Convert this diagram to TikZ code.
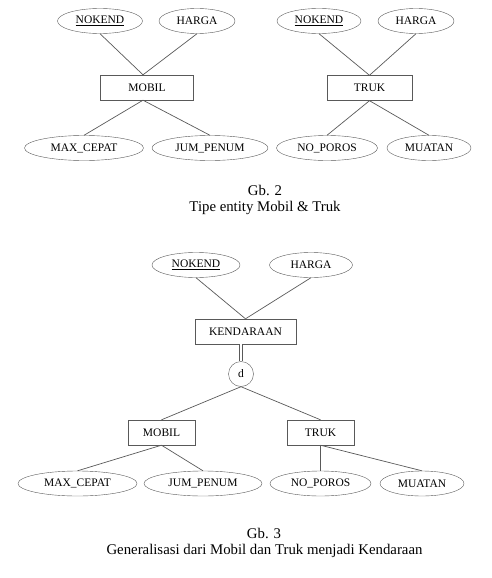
\documentclass[tikz,border=0pt]{standalone}
\usepackage{fontspec}
\setmainfont{Liberation Serif}
\usetikzlibrary{shapes.geometric}
\begin{document}
\begin{tikzpicture}[x=1pt,y=-1pt,
  attr/.style={draw=black!65, ellipse, inner sep=0pt, minimum height=25pt, font=\fontsize{11.5}{13}\selectfont},
  ent/.style={draw=black!65, rectangle, inner sep=0pt, minimum height=25pt, font=\fontsize{11.5}{13}\selectfont},
  lnk/.style={draw=black!65, line width=0.7pt},
  captxt/.style={font=\fontsize{14.8}{17}\selectfont, inner sep=0pt}]
\useasboundingbox (0,0) rectangle (492,578);
% ---- Gb. 2 : Mobil
\node[attr, minimum width=85pt] (nk1) at (100,21) {\underline{NOKEND}};
\node[attr, minimum width=76pt] (hg1) at (197,21) {HARGA};
\node[ent, minimum width=93pt] (mob1) at (147,87.5) {MOBIL};
\node[attr, minimum width=119pt] (mc1) at (84,148) {MAX\_CEPAT};
\node[attr, minimum width=116pt] (jp1) at (210,148) {JUM\_PENUM};
\draw[lnk] (nk1.south) -- ([xshift=-4pt]mob1.north);
\draw[lnk] (hg1.south) -- ([xshift=-4pt]mob1.north);
\draw[lnk] ([xshift=-4pt]mob1.south) -- (mc1.north);
\draw[lnk] ([xshift=-4pt]mob1.south) -- (jp1.north);
% ---- Gb. 2 : Truk
\node[attr, minimum width=84pt] (nk2) at (319,21) {\underline{NOKEND}};
\node[attr, minimum width=76pt] (hg2) at (416,21) {HARGA};
\node[ent, minimum width=85pt] (tr1) at (369.5,88) {TRUK};
\node[attr, minimum width=101pt] (np1) at (327,148) {NO\_POROS};
\node[attr, minimum width=84pt] (mu1) at (429,148) {MUATAN};
\draw[lnk] (nk2.south) -- (tr1.north);
\draw[lnk] (hg2.south) -- (tr1.north);
\draw[lnk] (tr1.south) -- (np1.north);
\draw[lnk] (tr1.south) -- (mu1.north);
% caption
\node[captxt] (c2a) at (265,190) {Gb. 2};
\node[captxt] (c2b) at (265,208) {Tipe entity Mobil \& Truk};
% ---- Gb. 3
\node[attr, minimum width=88pt] (nk3) at (196,265) {\underline{NOKEND}};
\node[attr, minimum width=83pt] (hg3) at (311,265) {HARGA};
\node[ent, minimum width=101pt] (ken) at (245.5,331.5) {KENDARAAN};
\node[draw=black!65, circle, minimum size=25pt, inner sep=0pt, font=\fontsize{11.5}{13}\selectfont] (d) at (241,374) {d};
\node[ent, minimum width=67pt] (mob2) at (161.5,432.5) {MOBIL};
\node[ent, minimum width=67pt] (tr2) at (320.5,432.5) {TRUK};
\node[attr, minimum width=119pt] (mc2) at (77.5,483.5) {MAX\_CEPAT};
\node[attr, minimum width=118pt] (jp2) at (203,483.5) {JUM\_PENUM};
\node[attr, minimum width=101pt] (np2) at (320.5,483.5) {NO\_POROS};
\node[attr, minimum width=84pt] (mu2) at (422,483.5) {MUATAN};
\draw[lnk] (nk3.south) -- (ken.north);
\draw[lnk] (hg3.south) -- (ken.north);
\draw[black!65, line width=0.7pt, double, double distance=2.5pt] (ken.south -| d.north) -- (d.north);
\draw[lnk] (d.south) -- (mob2.north);
\draw[lnk] (d.south) -- (tr2.north);
\draw[lnk] (mob2.south) -- (mc2.north);
\draw[lnk] (mob2.south) -- (jp2.north);
\draw[lnk] (tr2.south) -- (np2.north);
\draw[lnk] (tr2.south) -- (mu2.north);
\node[captxt] (c3a) at (264,533) {Gb. 3};
\node[captxt] (c3b) at (264.5,551) {Generalisasi dari Mobil dan Truk menjadi Kendaraan};
\end{tikzpicture}
\end{document}
